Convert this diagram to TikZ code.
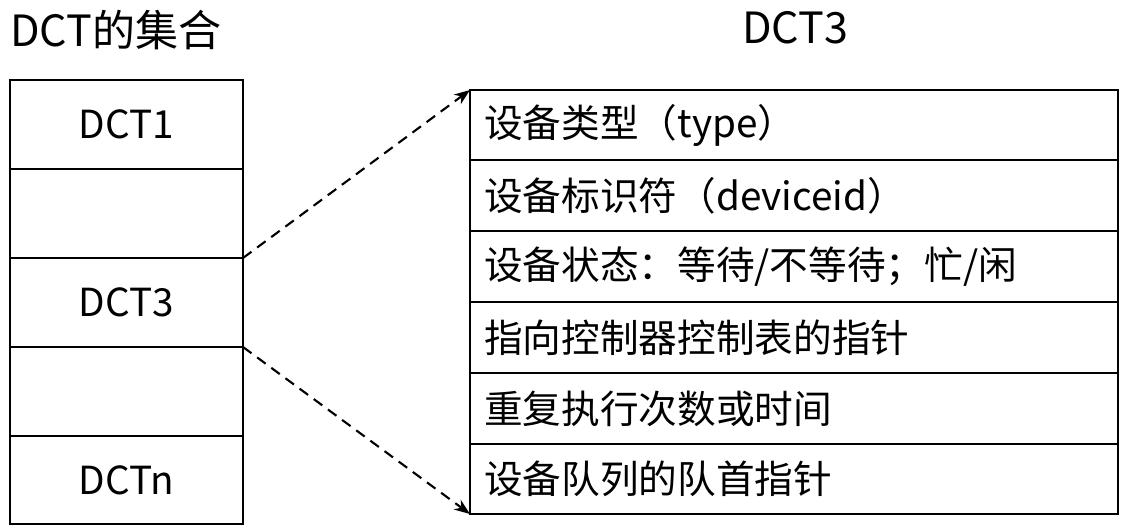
\documentclass[tikz,border=0pt]{standalone}
\usepackage{fontspec}
\setmainfont{Noto Sans CJK SC}
\usetikzlibrary{arrows.meta}
\begin{document}
\begin{tikzpicture}[x=0.02cm,y=-0.02cm,
  cell/.style={draw,line width=1.2pt},
  lbl/.style={font=\fontsize{22}{26}\selectfont},
  ttl/.style={font=\fontsize{24.5}{29}\selectfont},
  link/.style={dash pattern=on 6pt off 4pt,line width=1.2pt,-{Stealth[length=9pt]}}]
\useasboundingbox (0,0) rectangle (1127,529);
\node[ttl,anchor=west] (t1) at (4,30) {DCT的集合};
\node[ttl] (t2) at (795,28) {DCT3};
\foreach \i/\a/\b/\t in {1/80/169/DCT1,2/169/258/,3/258/347/DCT3,4/347/436/,5/436/524/DCTn}{
  \draw[cell] (10,\a) rectangle (243,\b);
  \node[lbl] (l\i) at (126.5,{(\a+\b)/2}) {\t};
}
\foreach \i/\a/\b/\t in {1/90/160/{设备类型（type）},2/160/231/{设备标识符（deviceid）},3/231/302/{设备状态：等待/不等待；忙/闲},4/302/373/{指向控制器控制表的指针},5/373/444/{重复执行次数或时间},6/444/514/{设备队列的队首指针}}{
  \draw[cell] (470,\a) rectangle (1118,\b);
  \node[lbl,anchor=west] (r\i) at (478,{(\a+\b)/2}) {\t};
}
\coordinate (a1) at (243,258);
\coordinate (a2) at (470,90);
\coordinate (b1) at (243,347);
\coordinate (b2) at (470,514);
\draw[link] (a1) -- (a2);
\draw[link] (b1) -- (b2);
\end{tikzpicture}
\end{document}
